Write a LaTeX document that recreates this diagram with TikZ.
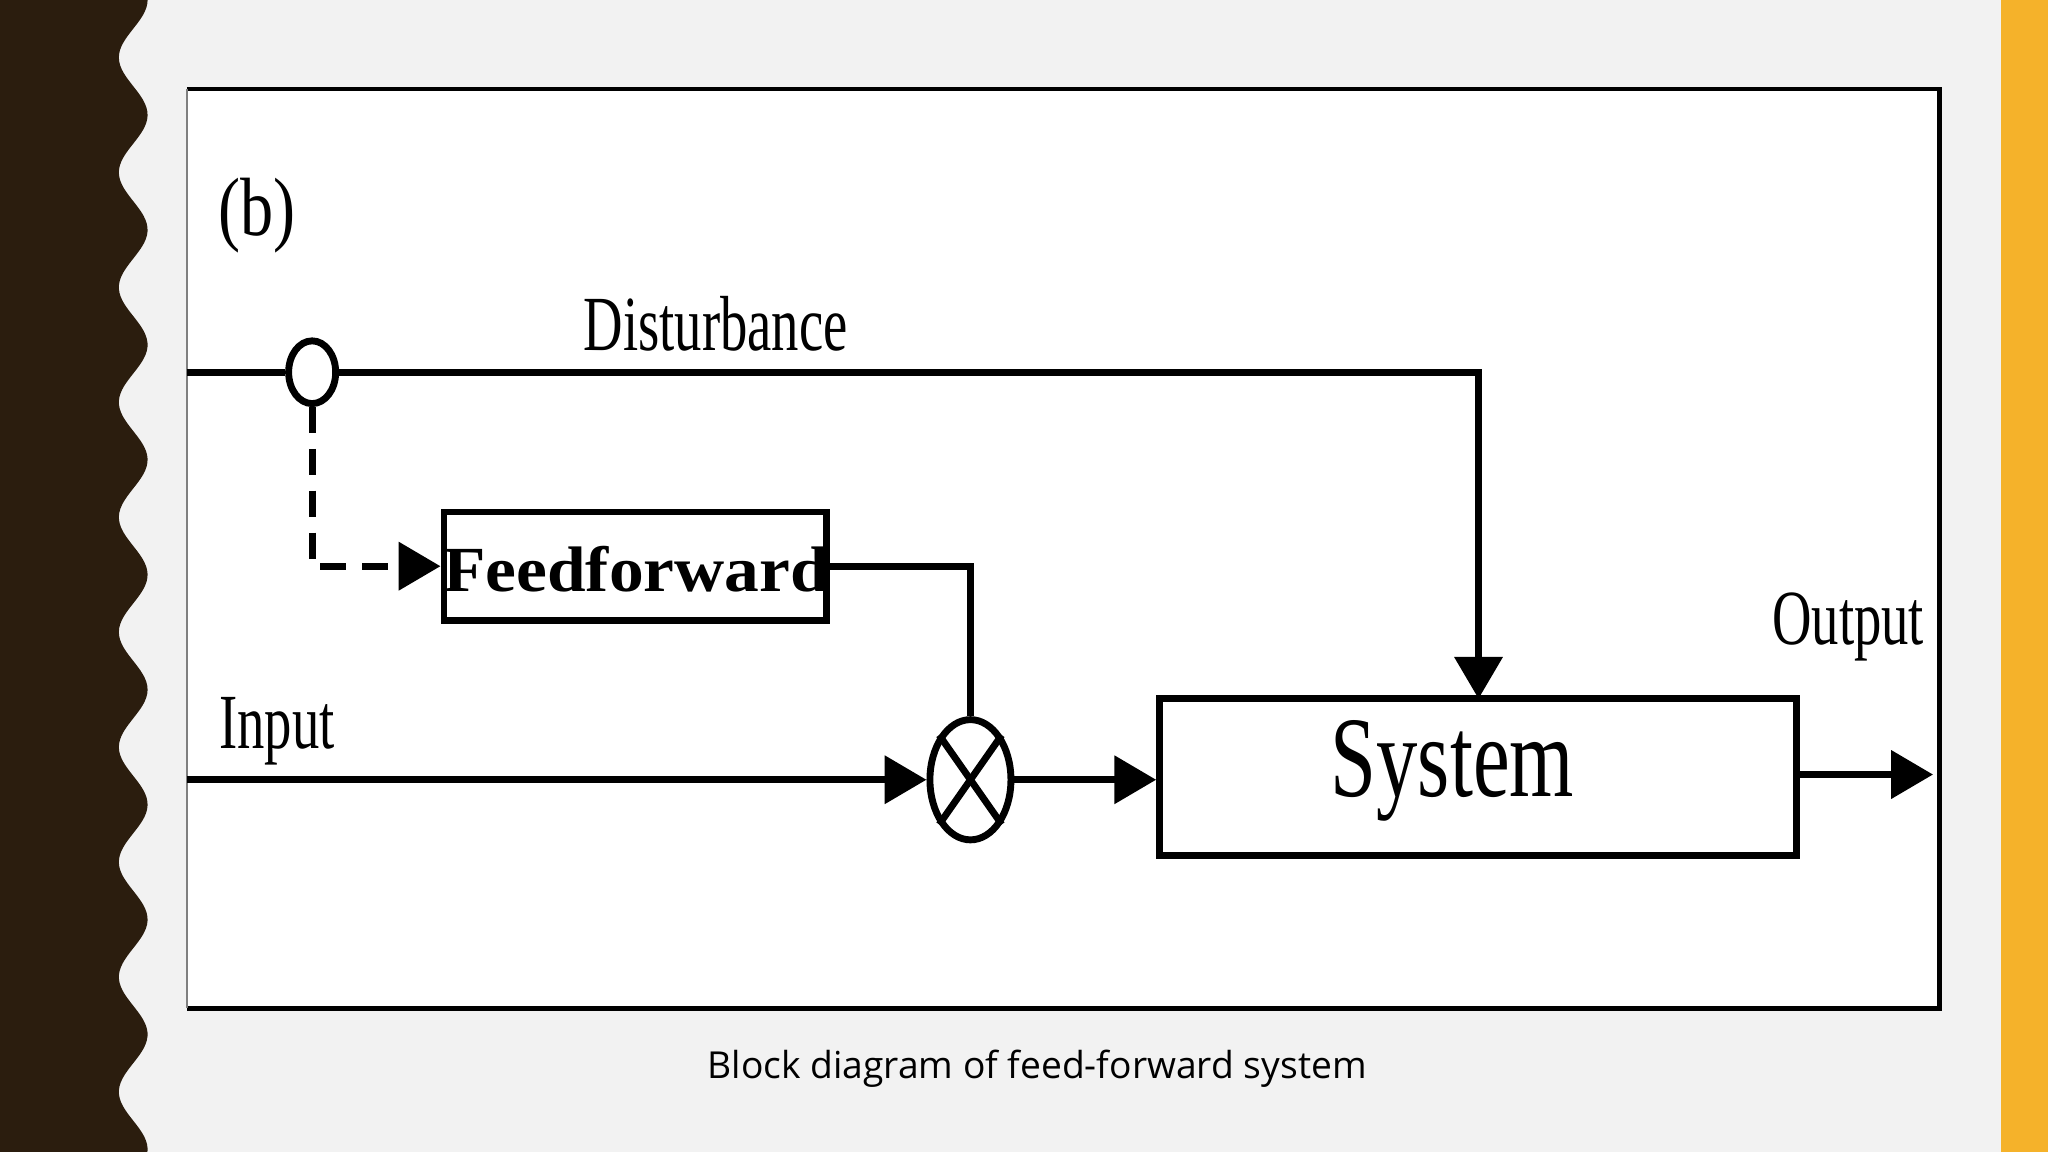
\documentclass[tikz,border=0pt]{standalone}
\usepackage{fontspec}
\setmainfont{Liberation Serif}
\newfontfamily\capfont{Open Sans}
\usetikzlibrary{arrows.meta,shapes.geometric}
\definecolor{bgray}{HTML}{F2F2F2}
\definecolor{wavebrown}{HTML}{2B1D0E}
\definecolor{barorange}{HTML}{F5B22A}
\tikzset{
  wire/.style={line width=1.5pt},
  tip/.style={-{Triangle[length=0.32cm,width=0.36cm]}},
  block/.style={rectangle, draw, line width=1.5pt, inner sep=0pt},
  lbl/.style={font=\fontsize{17}{17}\selectfont, xscale=0.7}
}
\begin{document}
\begin{tikzpicture}[x=0.01cm,y=-0.01cm]
        \useasboundingbox (0,0) rectangle (1568,882);
        \fill[bgray] (0,0) rectangle (1568,882);
        \fill[wavebrown] (0,0) -- plot[domain=0:882,samples=300,smooth] ({102+11*cos(4.0909*\x)},\x) -- (0,882) -- cycle;
        \fill[barorange] (1532,0) rectangle (1568,882);
        \fill[white] (143,68) rectangle (1485,772);
        \draw[line width=1pt] (143,68) -- (1485,68) -- (1485,772) -- (143,772);
        \draw[line width=0.4pt, gray] (143,68) -- (143,772);
        \node(b) at (197,165) [font=\fontsize{18}{18}\selectfont, xscale=0.8] {(b)};
        \coordinate(din) at (143,285);
        \coordinate(xin) at (143,597);
        \node(tap) at (239,285) [ellipse, draw, line width=1.5pt, minimum width=0.36cm, minimum height=0.48cm, inner sep=0pt] {};
        \node(ff) at (486.5,433.5) [block, minimum width=2.93cm, minimum height=0.83cm] {};
        \node at (487,436) [font=\bfseries\fontsize{14}{14}\selectfont, xscale=1.08] {Feedforward};
        \node(mix) at (743,597) [ellipse, draw, line width=1.5pt, minimum width=0.62cm, minimum height=0.92cm, inner sep=0pt] {};
        \draw[line width=1.5pt] (mix.125) -- (mix.-55);
        \draw[line width=1.5pt] (mix.55) -- (mix.-125);
        \node(sys) at (1131.5,595) [block, minimum width=4.87cm, minimum height=1.2cm] {};
        \node at (1112,590) [font=\fontsize{25}{25}\selectfont, xscale=0.72] {System};
        \coordinate(out) at (1480,593);
        \node(dist) at (548,248) [lbl] {Disturbance};
        \node(inl) at (212,560) [lbl] {Input};
        \node(outl) at (1415,480) [lbl] {Output};
        \node(cap) at (794,818) [font=\capfont\fontsize{8.1}{9}\selectfont] {Block diagram of feed-forward system};
        \draw [wire] (din) -- (tap);
        \draw [wire, tip] (tap) -- (1132,285) -- (1132,535);
        \draw [wire, dash pattern=on 0.2cm off 0.12cm, tip] (tap) |- (ff.west);
        \draw [wire] (ff.east) -| (mix.north);
        \draw [wire, tip] (xin) -- (mix.west);
        \draw [wire, tip] (mix.east) -- (mix.east -| sys.west);
        \draw [wire, tip] (sys.east |- out) -- (out);
    \end{tikzpicture}
\end{document}
